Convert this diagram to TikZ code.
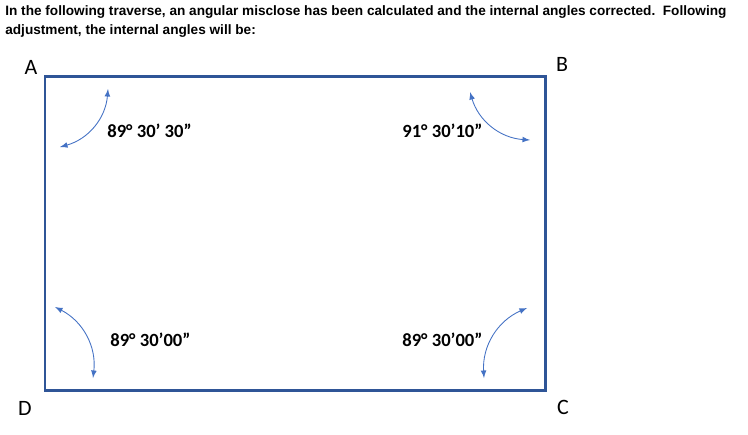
\documentclass[tikz,border=0pt]{standalone}
\usepackage{fontspec}
\setmainfont{Carlito}
\newfontfamily\headfont{Liberation Sans}
\usetikzlibrary{positioning}
\definecolor{frameblue}{HTML}{2F5597}
\definecolor{arcblue}{HTML}{4472C4}

\begin{document}
\begin{tikzpicture} [x=0.02cm,y=-0.02cm,
            corner/.style={font=\fontsize{12.5}{14}\selectfont,inner sep=0pt},
            angle/.style={font=\fontsize{10.6}{12}\selectfont\bfseries,inner sep=0pt,anchor=west},
            swing/.style={<->,arcblue,line width=0.5pt},
            >=latex,
         every node/.append style={align=left}]
\useasboundingbox (0,0) rectangle (748,434);
%\draw[red] (0,0) rectangle (748,434);
\node (head) at (5,5) [anchor=north west,inner sep=0pt,font=\headfont\fontsize{7.75}{10.8}\selectfont\bfseries]
   {In the following traverse, an angular misclose has been calculated and the internal angles corrected.\ \ Following\\adjustment, the internal angles will be:}
node (A) at (31,67) [corner] {A}
node (B) at (562,64) [corner] {B}
node (C) at (563,407) [corner] {C}
node (D) at (25,408) [corner] {D}
node (angA) at (107,131) [angle] {89° 30’ 30”}
node (angB) at (402,131) [angle] {91° 30’10”}
node (angD) at (110,340) [angle] {89° 30’00”}
node (angC) at (402,340) [angle] {89° 30’00”}
 ;

% traverse corners
\coordinate (cA) at (45,76);
\coordinate (cC) at (545.5,390);
\draw[frameblue,line width=1.7pt] (cA) rectangle (cC);

% arc ends
\coordinate (a1) at (60,147);
\coordinate (a2) at (108,89);
\coordinate (b1) at (470,92);
\coordinate (b2) at (530,140);
\coordinate (d1) at (55,307);
\coordinate (d2) at (93,378);
\coordinate (c1) at (527,308);
\coordinate (c2) at (484,378);

\draw [swing] (a1) to[bend right=35] (a2);
\draw [swing] (b1) to[bend right=35] (b2);
\draw [swing] (d1) to[bend left=35] (d2);
\draw [swing] (c1) to[bend right=35] (c2);
\end{tikzpicture}
\end{document}
